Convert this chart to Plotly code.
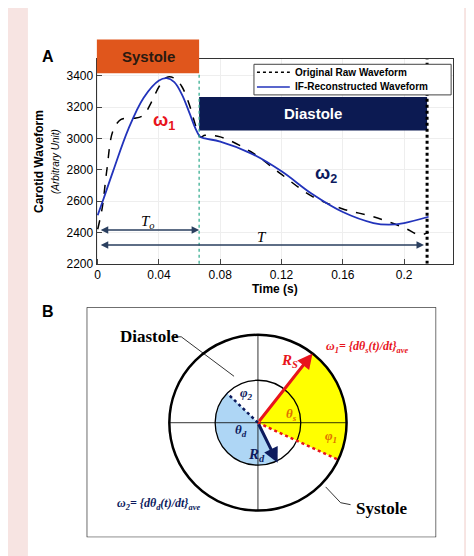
import numpy as np
import plotly.graph_objects as go

# Panel A waveform samples
t_raw = [0, 0.003, 0.006, 0.01, 0.015, 0.02, 0.025, 0.03, 0.035, 0.04, 0.045, 0.05, 0.055, 0.06,
         0.064, 0.067, 0.07, 0.08, 0.1, 0.12, 0.14, 0.16, 0.18, 0.2, 0.21, 0.216]
v_raw = [2420, 2560, 2800, 3050, 3120, 3130, 3130, 3150, 3230, 3330, 3390, 3385, 3330, 3210,
         3080, 3010, 3020, 3010, 2915, 2770, 2630, 2550, 2500, 2430, 2385, 2400]
t_rec = [0, 0.004, 0.01, 0.02, 0.03, 0.04, 0.045, 0.05, 0.055, 0.06, 0.064, 0.067, 0.07,
         0.08, 0.1, 0.12, 0.14, 0.16, 0.18, 0.19, 0.2, 0.216]
v_rec = [2510, 2620, 2790, 3060, 3260, 3370, 3385, 3360, 3280, 3160, 3060, 3010, 3000,
         2980, 2905, 2790, 2645, 2530, 2460, 2450, 2460, 2500]
x_ticks = [0, 0.04, 0.08, 0.12, 0.16, 0.2]
x_tick_labels = ["0", "0.04", "0.08", "0.12", "0.16", "0.2"]
y_ticks = [2200, 2400, 2600, 2800, 3000, 3200, 3400]
series_names = ["Original Raw Waveform", "IF-Reconstructed Waveform"]
t_systole_end = 0.0662
t_period = 0.215

# Panel B angles (degrees)
ang_rs = 52
ang_phi1 = -25
ang_phi2 = 136
ang_rd = -64

W, H = 474, 556
NAVY = "#0d1b5e"
RED = "#e8141c"
BLUE = "#2233bb"


def px(xp, yp):
    return xp / W, 1 - yp / H


fig = go.Figure()
fig.add_trace(go.Scatter(x=t_raw, y=v_raw, mode="lines", line=dict(color="black", dash="dash", width=1.5, shape="spline"),
                         name=series_names[0]))
fig.add_trace(go.Scatter(x=t_rec, y=v_rec, mode="lines", line=dict(color=BLUE, width=1.8, shape="spline"),
                         name=series_names[1]))

fig.update_layout(
    width=W, height=H, margin=dict(l=0, r=0, t=0, b=0),
    paper_bgcolor="#f7e4e2", plot_bgcolor="white",
    font=dict(family="Liberation Sans", color="black"),
    showlegend=False,
    xaxis=dict(domain=[87 / W, 445 / W], range=[-0.0007, 0.232], tickvals=x_ticks, ticktext=x_tick_labels,
               showline=True, linecolor="#333", mirror=True, ticks="inside", showgrid=True, gridcolor="#eeeeee",
               zeroline=False, tickfont=dict(size=12, family="Liberation Sans"),
               title=dict(text="<b>Time (s)</b>", font=dict(size=12), standoff=2)),
    yaxis=dict(domain=[1 - 259 / H, 1 - 52 / H], range=[2200, 3505], tickvals=y_ticks,
               showline=True, linecolor="#333", mirror=True, ticks="inside", showgrid=True, gridcolor="#eeeeee",
               zeroline=False, tickfont=dict(size=12),
               title=dict(text="<b>Carotid Waveform</b><br><i><span style='font-size:10px'>(Arbitrary Unit)</span></i>",
                          font=dict(size=12), standoff=4)),
    xaxis2=dict(domain=[77 / W, 428 / W], range=[0, 351], visible=False, anchor="y2"),
    yaxis2=dict(domain=[1 - 536 / H, 1 - 303 / H], range=[0, 233], visible=False, anchor="x2"),
)
# invisible trace so panel B axes exist
fig.add_trace(go.Scatter(x=[0], y=[0], xaxis="x2", yaxis="y2", mode="markers", marker=dict(opacity=0), showlegend=False,
                         hoverinfo="skip"))

shapes = []
# white page panel
shapes.append(dict(type="rect", xref="paper", yref="paper", x0=18 / W, x1=456 / W, y0=0, y1=1, fillcolor="white",
                   line=dict(width=0), layer="below"))
# systole / diastole boxes
shapes.append(dict(type="rect", xref="x", yref="paper", x0=-0.0007, x1=t_systole_end, y0=1 - 66 / H, y1=1 - 32 / H,
                   fillcolor="#e0561c", line=dict(width=0)))
shapes.append(dict(type="rect", xref="x", yref="y", x0=t_systole_end, x1=t_period, y0=3050, y1=3265,
                   fillcolor="#0c1a52", line=dict(width=0)))
shapes.append(dict(type="line", xref="x", yref="paper", x0=t_systole_end, x1=t_systole_end, y0=1 - 259 / H, y1=1 - 66 / H,
                   line=dict(color="#2aa889", width=1.2, dash="dot")))
shapes.append(dict(type="line", xref="x", yref="y", x0=t_period, x1=t_period, y0=2200, y1=3505,
                   line=dict(color="black", width=3, dash="dot")))

# hand-made legend box
lx0, ly0 = px(245, 57)
lx1, ly1 = px(443, 88)
shapes.append(dict(type="rect", xref="paper", yref="paper", x0=lx0, x1=lx1, y0=ly1, y1=ly0, fillcolor="white",
                   line=dict(color="#444", width=1)))
legend_rows = [(65, "black", "dash"), (80, BLUE, "solid")]
for yp, col, dash in legend_rows:
    a0, b0 = px(248, yp)
    a1, _ = px(281, yp)
    shapes.append(dict(type="line", xref="paper", yref="paper", x0=a0, x1=a1, y0=b0, y1=b0,
                       line=dict(color=col, width=1.6, dash="dot" if dash == "dash" else "solid")))

# Panel B
cx, cy, R_out, R_in = 172, 116, 89, 43
shapes.append(dict(type="rect", xref="x2", yref="y2", x0=0, x1=351, y0=0, y1=233, line=dict(color="black", width=1.2),
                   fillcolor="white"))


def sector(a0, a1, r):
    a = np.radians(np.linspace(a0, a1, 60))
    xs = cx + r * np.cos(a)
    ys = cy + r * np.sin(a)
    return f"M {cx},{cy} " + " ".join(f"L {x:.2f},{y:.2f}" for x, y in zip(xs, ys)) + " Z"


shapes.append(dict(type="path", xref="x2", yref="y2", path=sector(ang_phi1, ang_rs, R_out), fillcolor="#ffff00",
                   line=dict(width=0)))
shapes.append(dict(type="path", xref="x2", yref="y2", path=sector(ang_phi2, 360 + ang_rd, R_in), fillcolor="#aed6f5",
                   line=dict(width=0)))
for r, w in [(R_out, 2.5), (R_in, 1.3)]:
    shapes.append(dict(type="circle", xref="x2", yref="y2", x0=cx - r, x1=cx + r, y0=cy - r, y1=cy + r,
                       line=dict(color="black", width=w)))
shapes.append(dict(type="line", xref="x2", yref="y2", x0=cx - R_out, x1=cx + R_out, y0=cy, y1=cy,
                   line=dict(color="black", width=0.8)))
shapes.append(dict(type="line", xref="x2", yref="y2", x0=cx, x1=cx, y0=cy - R_out, y1=cy + R_out,
                   line=dict(color="black", width=0.8)))
a = np.radians(ang_phi1)
shapes.append(dict(type="line", xref="x2", yref="y2", x0=cx, y0=cy, x1=cx + R_out * np.cos(a), y1=cy + R_out * np.sin(a),
                   line=dict(color=RED, width=2.5, dash="dot")))
a = np.radians(ang_phi2)
shapes.append(dict(type="line", xref="x2", yref="y2", x0=cx, y0=cy, x1=cx + R_in * np.cos(a), y1=cy + R_in * np.sin(a),
                   line=dict(color=NAVY, width=2.5, dash="dot")))
# leader lines
shapes.append(dict(type="path", xref="x2", yref="y2", path="M 85,203 L 95,203 L 148,163", line=dict(color="black", width=0.8)))
shapes.append(dict(type="path", xref="x2", yref="y2", path="M 265,33 L 255,35 L 240,51", line=dict(color="black", width=0.8)))
fig.update_layout(shapes=shapes)

ann = []
ann.append(dict(xref="paper", yref="paper", x=30 / W, y=1 - 38 / H, text="<b>A</b>", showarrow=False, font=dict(size=16)))
ann.append(dict(xref="paper", yref="paper", x=30 / W, y=1 - 307 / H, text="<b>B</b>", showarrow=False, font=dict(size=16)))
for (yp, _, _), name in zip(legend_rows, series_names):
    a0, b0 = px(284, yp)
    ann.append(dict(xref="paper", yref="paper", x=a0, y=b0, text=f"<b>{name}</b>", showarrow=False, xanchor="left",
                    yanchor="middle", font=dict(size=10)))
ann.append(dict(xref="x", yref="paper", x=t_systole_end / 2, y=1 - 49 / H, text="<b>Systole</b>", showarrow=False,
                yanchor="middle", font=dict(size=15, color="#2a1a10")))
ann.append(dict(xref="x", yref="y", x=(t_systole_end + t_period) / 2, y=3157, text="<b>Diastole</b>", showarrow=False,
                yanchor="middle", font=dict(size=15, color="white")))
ann.append(dict(xref="x", yref="y", x=0.043, y=3110, text="<b>ω<sub>1</sub></b>", showarrow=False, font=dict(size=18, color=RED)))
ann.append(dict(xref="x", yref="y", x=0.149, y=2770, text="<b>ω<sub>2</sub></b>", showarrow=False, font=dict(size=18, color=NAVY)))
# time arrows
for x1, yv in [(t_systole_end, 2415), (0.213, 2320)]:
    ann.append(dict(xref="x", yref="y", axref="x", ayref="y", x=x1, y=yv, ax=0.001, ay=yv, text="", showarrow=True,
                    arrowhead=2, arrowsize=1, arrowwidth=1.5, arrowside="end+start"))
ann.append(dict(xref="x", yref="y", x=t_systole_end / 2, y=2465, text="<i>T<sub>o</sub></i>", showarrow=False,
                font=dict(size=15, family="Liberation Serif")))
ann.append(dict(xref="x", yref="y", x=0.107, y=2370, text="<i>T</i>", showarrow=False,
                font=dict(size=15, family="Liberation Serif")))

# Panel B arrows
for ang, r, col in [(ang_rs, R_out, RED), (ang_rd, R_in + 2, NAVY)]:
    a = np.radians(ang)
    ann.append(dict(xref="x2", yref="y2", axref="x2", ayref="y2", x=cx + r * np.cos(a), y=cy + r * np.sin(a), ax=cx, ay=cy,
                    text="", showarrow=True, arrowhead=2, arrowsize=1, arrowwidth=3, arrowcolor=col))
serif = "Liberation Serif"
labels_b = [
    (95, 203, "<b>Diastole</b>", 17, "black", "right"),
    (268, 29, "<b>Systole</b>", 17, "black", "left"),
    (282, 193, "<b><i>ω<sub>1</sub>= {dθ<sub>s</sub>(t)/dt}<sub>ave</sub></i></b>", 12, RED, "center"),
    (72, 34, "<b><i>ω<sub>2</sub>= {dθ<sub>d</sub>(t)/dt}<sub>ave</sub></i></b>", 12, NAVY, "center"),
    (204, 178, "<b><i>R<sub>S</sub></i></b>", 15, RED, "center"),
    (171, 83, "<b><i>R<sub>d</sub></i></b>", 15, NAVY, "center"),
    (206, 124, "<b><i>θ<sub>s</sub></i></b>", 13, "#e07000", "center"),
    (245, 102, "<b><i>φ<sub>1</sub></i></b>", 13, "#e07000", "center"),
    (161, 146, "<b><i>φ<sub>2</sub></i></b>", 13, NAVY, "center"),
    (155, 108, "<b><i>θ<sub>d</sub></i></b>", 13, NAVY, "center"),
]
for x, y, txt, sz, col, al in labels_b:
    ann.append(dict(xref="x2", yref="y2", x=x, y=y, text=txt, showarrow=False, xanchor=al,
                    font=dict(size=sz, color=col, family=serif)))
fig.update_layout(annotations=ann)

fig.write_html("out.html")
